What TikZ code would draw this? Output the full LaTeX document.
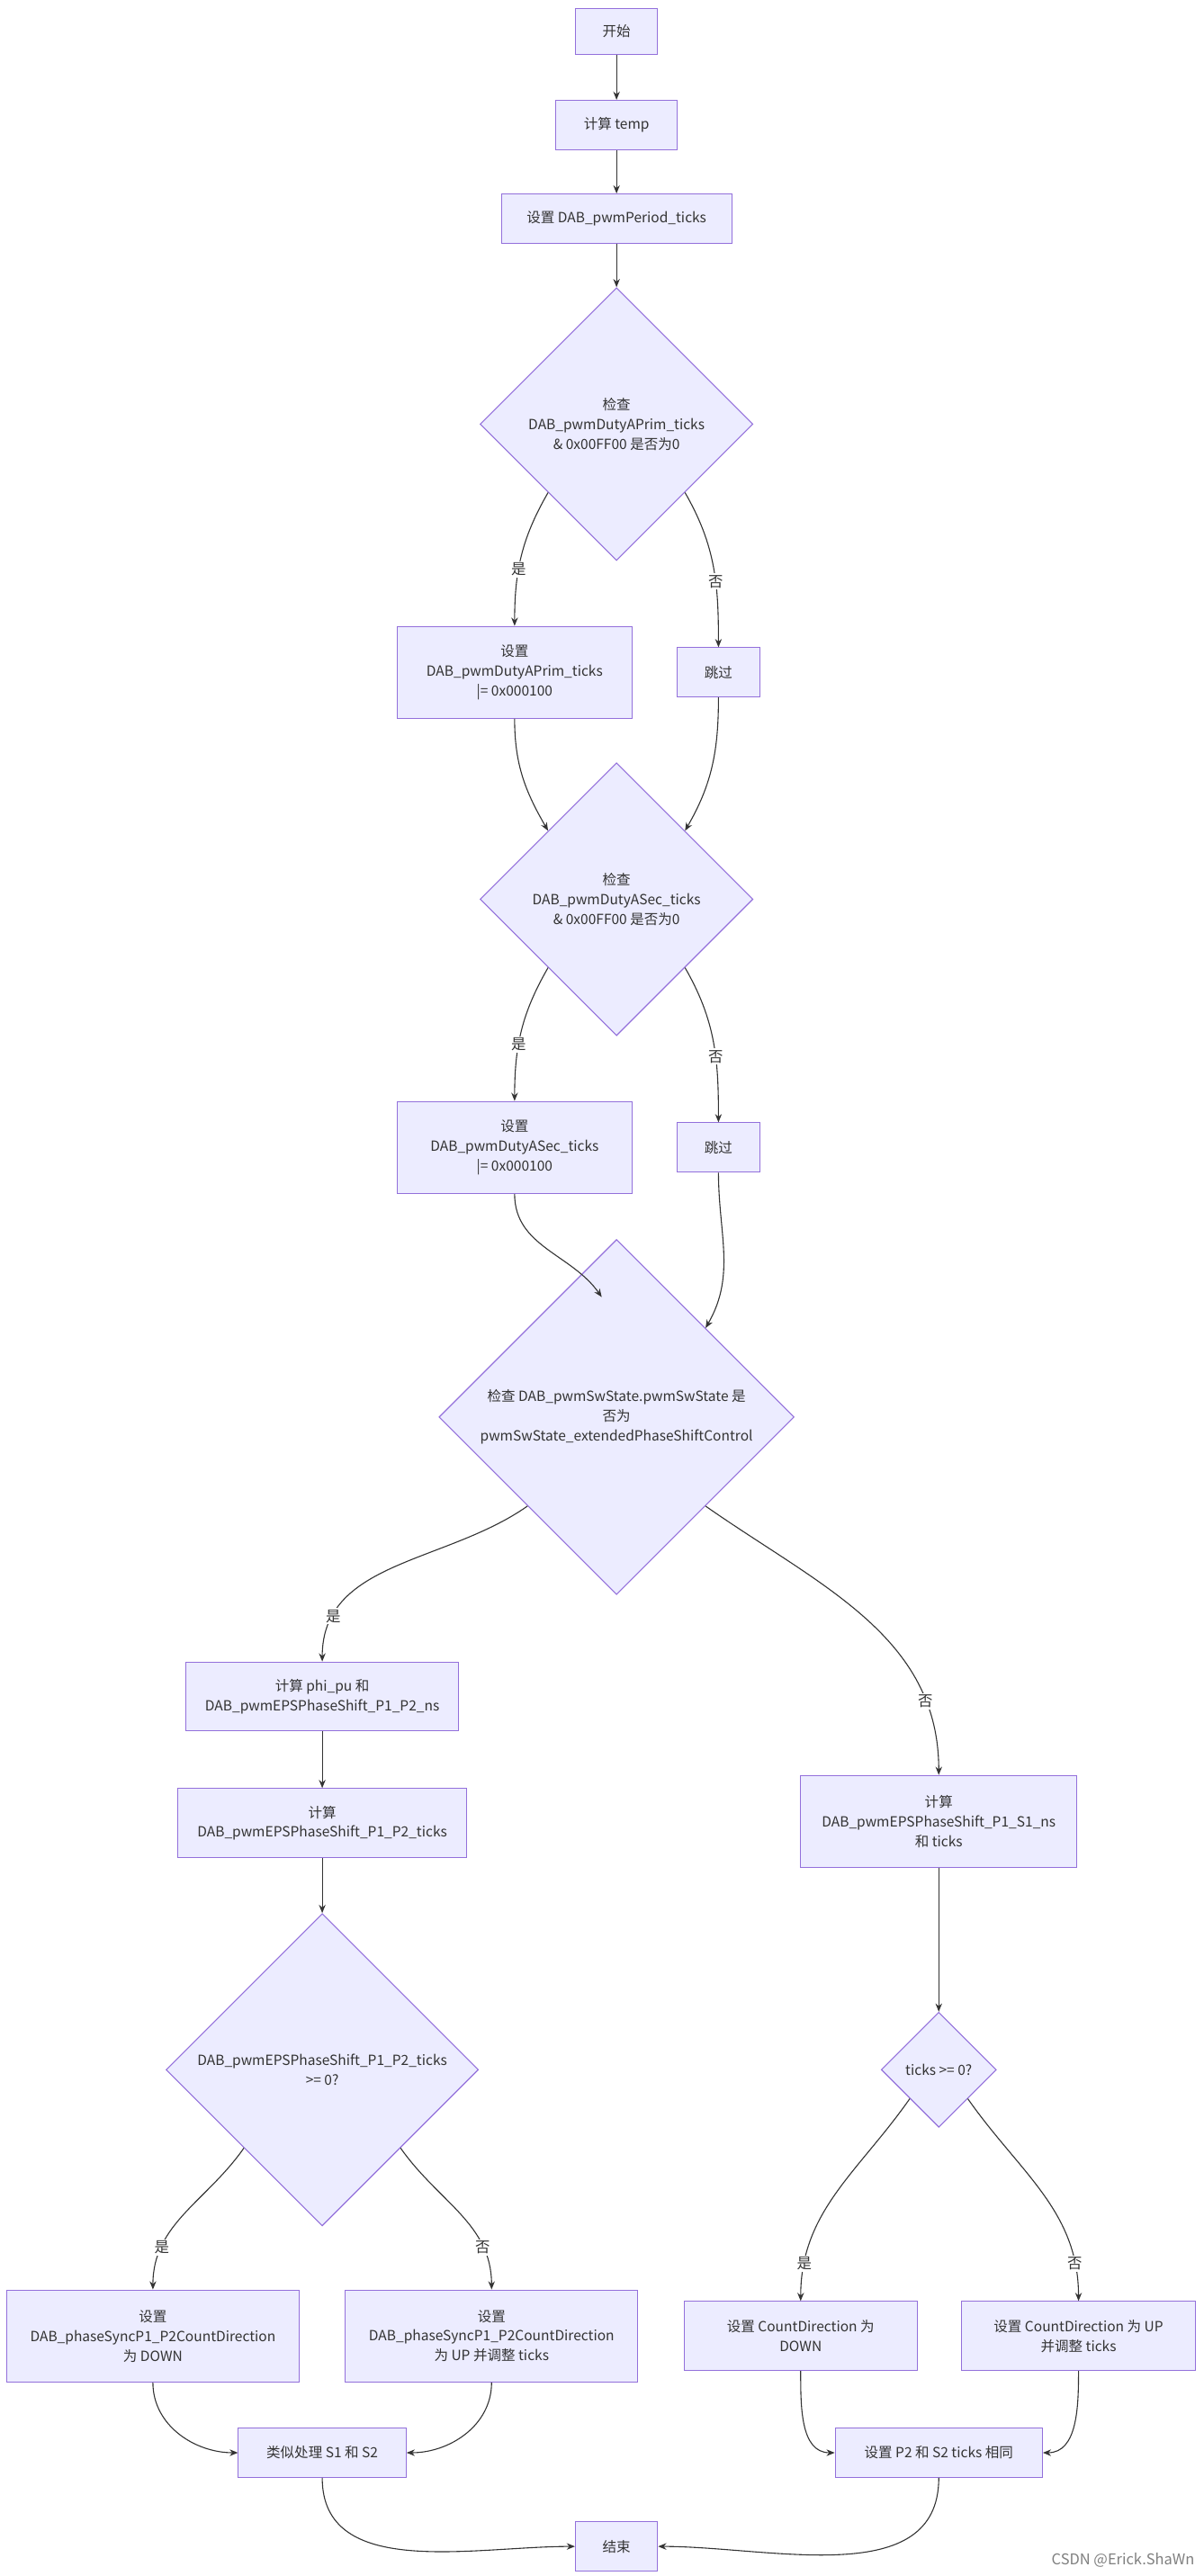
\documentclass[tikz,border=0pt]{standalone}
\usepackage{fontspec}
\setmainfont{Noto Sans CJK SC}
\usetikzlibrary{shapes.geometric,arrows.meta}
\definecolor{nf}{HTML}{ECECFF}
\definecolor{nd}{HTML}{9370DB}
\definecolor{tx}{HTML}{333333}
\begin{document}
\begin{tikzpicture}[x=1pt,y=-1pt,font=\fontsize{8.5}{12}\selectfont,text=tx,
  box/.style={draw=nd,fill=nf,line width=0.6pt,align=center,inner sep=0pt},
  dia/.style={draw=nd,fill=nf,line width=0.6pt,diamond,inner sep=0pt},
  lbl/.style={align=center},
  e/.style={draw=tx,line width=0.6pt,-{Stealth[length=5pt,width=4pt]}},
  yl/.style={fill=white,inner sep=1pt,font=\fontsize{9}{11}\selectfont}]
\useasboundingbox[fill=white] (0,0) rectangle (732,1567);
\node[box,minimum width=50,minimum height=28] (s) at (375,19) {开始};
\node[box,minimum width=74,minimum height=30] (t) at (375,76) {计算 temp};
\node[box,minimum width=140,minimum height=30] (p) at (375,133) {设置 DAB\_pwmPeriod\_ticks};
\node[dia,minimum width=166,minimum height=166] (d1) at (375,258) {};
\node[lbl] at (d1) {检查\\DAB\_pwmDutyAPrim\_ticks\\\& 0x00FF00 是否为0};
\node[box,minimum width=143,minimum height=56] (b1) at (313,409) {设置\\DAB\_pwmDutyAPrim\_ticks\\|= 0x000100};
\node[box,minimum width=50,minimum height=30] (k1) at (437,409) {跳过};
\node[dia,minimum width=166,minimum height=166] (d2) at (375,547) {};
\node[lbl] at (d2) {检查\\DAB\_pwmDutyASec\_ticks\\\& 0x00FF00 是否为0};
\node[box,minimum width=143,minimum height=56] (b2) at (313,698) {设置\\DAB\_pwmDutyASec\_ticks\\|= 0x000100};
\node[box,minimum width=50,minimum height=30] (k2) at (437,698) {跳过};
\node[dia,minimum width=216,minimum height=216] (d3) at (375,862) {};
\node[lbl] at (d3) {检查 DAB\_pwmSwState.pwmSwState 是\\否为\\pwmSwState\_extendedPhaseShiftControl};
\node[box,minimum width=166,minimum height=42] (l1) at (196,1032) {计算 phi\_pu 和\\DAB\_pwmEPSPhaseShift\_P1\_P2\_ns};
\node[box,minimum width=176,minimum height=42] (l2) at (196,1109) {计算\\DAB\_pwmEPSPhaseShift\_P1\_P2\_ticks};
\node[dia,minimum width=190,minimum height=190] (d4) at (196,1259) {};
\node[lbl] at (d4) {DAB\_pwmEPSPhaseShift\_P1\_P2\_ticks\\>= 0?};
\node[box,minimum width=178,minimum height=56] (l3) at (93,1421) {设置\\DAB\_phaseSyncP1\_P2CountDirection\\为 DOWN};
\node[box,minimum width=178,minimum height=56] (l4) at (299,1421) {设置\\DAB\_phaseSyncP1\_P2CountDirection\\为 UP 并调整 ticks};
\node[box,minimum width=102,minimum height=30] (l5) at (196,1492) {类似处理 S1 和 S2};
\node[box,minimum width=168,minimum height=56] (r1) at (571,1108) {计算\\DAB\_pwmEPSPhaseShift\_P1\_S1\_ns\\和 ticks};
\node[dia,minimum width=70,minimum height=70] (d5) at (571,1259) {};
\node[lbl] at (d5) {ticks >= 0?};
\node[box,minimum width=142,minimum height=42] (r3) at (487,1421) {设置 CountDirection 为\\DOWN};
\node[box,minimum width=142,minimum height=42] (r4) at (656,1421) {设置 CountDirection 为 UP\\并调整 ticks};
\node[box,minimum width=126,minimum height=30] (r5) at (571,1492) {设置 P2 和 S2 ticks 相同};
\node[box,minimum width=50,minimum height=30] (end) at (375,1549) {结束};
\node[text=gray,anchor=south east,font=\fontsize{9}{11}\selectfont] (wm) at (730,1565) {CSDN @Erick.ShaWn};
\coordinate (d3in) at (366,789);

\draw[e] (s) -- (t);
\draw[e] (t) -- (p);
\draw[e] (p) -- (d1);
\draw[e] (d1.south west) to[out=-120,in=90] node[yl,pos=0.6]{是} (b1.north);
\draw[e] (d1.south east) to[out=-60,in=90] node[yl,pos=0.6]{否} (k1.north);
\draw[e] (b1.south) to[out=-90,in=120] (d2.north west);
\draw[e] (k1.south) to[out=-90,in=60] (d2.north east);
\draw[e] (d2.south west) to[out=-120,in=90] node[yl,pos=0.6]{是} (b2.north);
\draw[e] (d2.south east) to[out=-60,in=90] node[yl,pos=0.6]{否} (k2.north);
\draw[e] (b2.south) to[out=-90,in=125] (d3in);
\draw[e] (k2.south) to[out=-90,in=60] (d3.north east);
\draw[e] (d3.south west) to[out=-145,in=90] node[yl,pos=0.82]{是} (l1.north);
\draw[e] (d3.south east) to[out=-35,in=90] node[yl,pos=0.8]{否} (r1.north);
\draw[e] (l1) -- (l2);
\draw[e] (l2) -- (d4);
\draw[e] (d4.south west) to[out=-125,in=90] node[yl,pos=0.75]{是} (l3.north);
\draw[e] (d4.south east) to[out=-55,in=90] node[yl,pos=0.75]{否} (l4.north);
\draw[e] (l3.south) to[out=-90,in=180] (l5.west);
\draw[e] (l4.south) to[out=-90,in=0] (l5.east);
\draw[e] (r1) -- (d5);
\draw[e] (d5.south west) to[out=-125,in=90] node[yl,pos=0.85]{是} (r3.north);
\draw[e] (d5.south east) to[out=-55,in=90] node[yl,pos=0.85]{否} (r4.north);
\draw[e] (r3.south) to[out=-90,in=180] (r5.west);
\draw[e] (r4.south) to[out=-90,in=0] (r5.east);
\draw[e] (l5.south) to[out=-90,in=180] (end.west);
\draw[e] (r5.south) to[out=-90,in=0] (end.east);
\end{tikzpicture}
\end{document}
